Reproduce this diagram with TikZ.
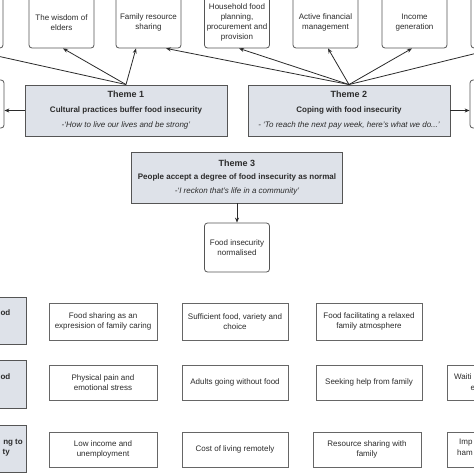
\documentclass[tikz,border=0pt]{standalone}
\usepackage{fontspec}
\setmainfont{Liberation Sans}
\usetikzlibrary{arrows.meta}
\definecolor{themefill}{HTML}{DEE2E9}
\definecolor{edgecol}{HTML}{555555}
\definecolor{rowedge}{HTML}{666666}
\definecolor{txt}{HTML}{2B2B2B}
\begin{document}
\begin{tikzpicture}[x=1pt,y=-1pt,
 every node/.style={text=txt},
 topbox/.style={draw=edgecol, line width=0.8pt, rounded corners=3pt, fill=white, minimum width=65pt, minimum height=51pt, align=center, font=\fontsize{8}{10}\selectfont, inner sep=0pt},
 themebox/.style={draw=edgecol, line width=0.9pt, fill=themefill, minimum width=202pt, minimum height=51pt, align=center, font=\fontsize{8}{15}\selectfont, inner sep=0pt},
 rowbox/.style={draw=rowedge, line width=0.9pt, fill=white, minimum width=106pt, minimum height=35pt, align=center, font=\fontsize{8}{10}\selectfont, inner sep=0pt},
 sidebox/.style={draw=edgecol, line width=0.9pt, fill=themefill, minimum width=100pt, minimum height=47pt, inner sep=0pt},
 fragb/.style={font=\fontsize{8}{10}\selectfont\bfseries, inner sep=0pt},
 fragr/.style={font=\fontsize{8}{10}\selectfont, inner sep=0pt},
 arr/.style={draw=txt, line width=0.8pt, -{Stealth[length=5pt,width=4pt]}},
]
\fill[white] (0,0) rectangle (474,474);
\useasboundingbox (0,0) rectangle (474,474);

% top row
\node[topbox] (l0) at (-29.5,22.5) {};
\node[topbox] (wis) at (61.5,22.5) {The wisdom of\\elders};
\node[topbox] (fam) at (148.5,22.5) {Family resource\\sharing};
\node[topbox] (hh) at (237,22.5) {Household food\\planning,\\procurement and\\provision};
\node[topbox] (act) at (325.5,22.5) {Active financial\\management};
\node[topbox] (inc) at (414.5,22.5) {Income\\generation};
\node[topbox] (r0) at (503.5,22.5) {};

% side boxes
\node[topbox, minimum height=48pt] (l1) at (-28.5,104) {};
\node[topbox, minimum height=48pt] (r1) at (502.5,104) {};

% themes
\node[themebox] (t1) at (126,110.5) {{\fontsize{9}{15}\selectfont\bfseries Theme 1}\\{\bfseries Cultural practices buffer food insecurity}\\{\itshape -‘How to live our lives and be strong’}};
\node[themebox] (t2) at (349,110.5) {{\fontsize{9}{15}\selectfont\bfseries Theme 2}\\{\bfseries Coping with food insecurity}\\{\itshape - ‘To reach the next pay week, here’s what we do...’}};
\node[themebox, minimum width=211pt, font=\fontsize{8}{13.5}\selectfont] (t3) at (237,177.5) {{\fontsize{9}{13.5}\selectfont\bfseries Theme 3}\\{\bfseries People accept a degree of food insecurity as normal}\\{\itshape -‘I reckon that’s life in a community’}};
\node[topbox, minimum height=49pt] (norm) at (237,247.5) {Food insecurity\\normalised};

% arrows
\draw[arr] (t1.north) -- ([xshift=-7.5pt]l0.south);
\draw[arr] (t1.north) -- ([xshift=1.5pt]wis.south);
\draw[arr] (t1.north) -- ([xshift=-12.5pt]fam.south);
\draw[arr] (t2.north) -- ([xshift=17.5pt]fam.south);
\draw[arr] (t2.north) -- ([xshift=2pt]hh.south);
\draw[arr] (t2.north) -- ([xshift=2.5pt]act.south);
\draw[arr] (t2.north) -- ([xshift=-2.5pt]inc.south);
\draw[arr] (t2.north) -- ([xshift=-7.5pt]r0.south);
\draw[arr] (t1.west) -- (t1.west -| l1.east);
\draw[arr] (t2.east) -- (t2.east -| r1.west);
\draw[arr] (t3.south) -- (norm.north);

% bottom side boxes
\node[sidebox] (s1) at (-24,320.5) {};
\node[sidebox, minimum height=48pt] (s2) at (-24,384) {};
\node[sidebox] (s3) at (-24,448.5) {};
\node[fragb, anchor=east] (f1) at (10.5,313) {od};
\node[fragb, anchor=east] (f2) at (10.5,377) {od};
\node[fragb, anchor=east] (f3a) at (23,443) {ng to};
\node[fragb, anchor=east] (f3b) at (10,452.5) {ty};

% bottom rows
\node[rowbox, minimum width=108pt, minimum height=37pt] (a1) at (103,321.5) {Food sharing as an\\expresision of family caring};
\node[rowbox, minimum height=37pt] (b1) at (235,321.5) {Sufficient food, variety and\\choice};
\node[rowbox, minimum height=37pt] (c1) at (369,321.5) {Food facilitating a relaxed\\family atmosphere};

\node[rowbox, minimum width=108pt] (a2) at (103,382.5) {Physical pain and\\emotional stress};
\node[rowbox] (b2) at (235,382.5) {Adults going without food};
\node[rowbox] (c2) at (369,382.5) {Seeking help from family};
\node[rowbox] (d2) at (500,382.5) {};
\node[fragr, anchor=west] (g2a) at (454,377) {Waiti};
\node[fragr, anchor=west] (g2b) at (470.5,388) {e};

\node[rowbox, minimum width=108pt] (a3) at (103,449.5) {Low income and\\unemployment};
\node[rowbox] (b3) at (235,449.5) {Cost of living remotely};
\node[rowbox, minimum width=108pt] (c3) at (367,449.5) {Resource sharing with\\family};
\node[rowbox] (d3) at (500,449.5) {};
\node[fragr, anchor=west] (g3a) at (459,443) {Imp};
\node[fragr, anchor=west] (g3b) at (457,453) {ham};
\end{tikzpicture}
\end{document}
